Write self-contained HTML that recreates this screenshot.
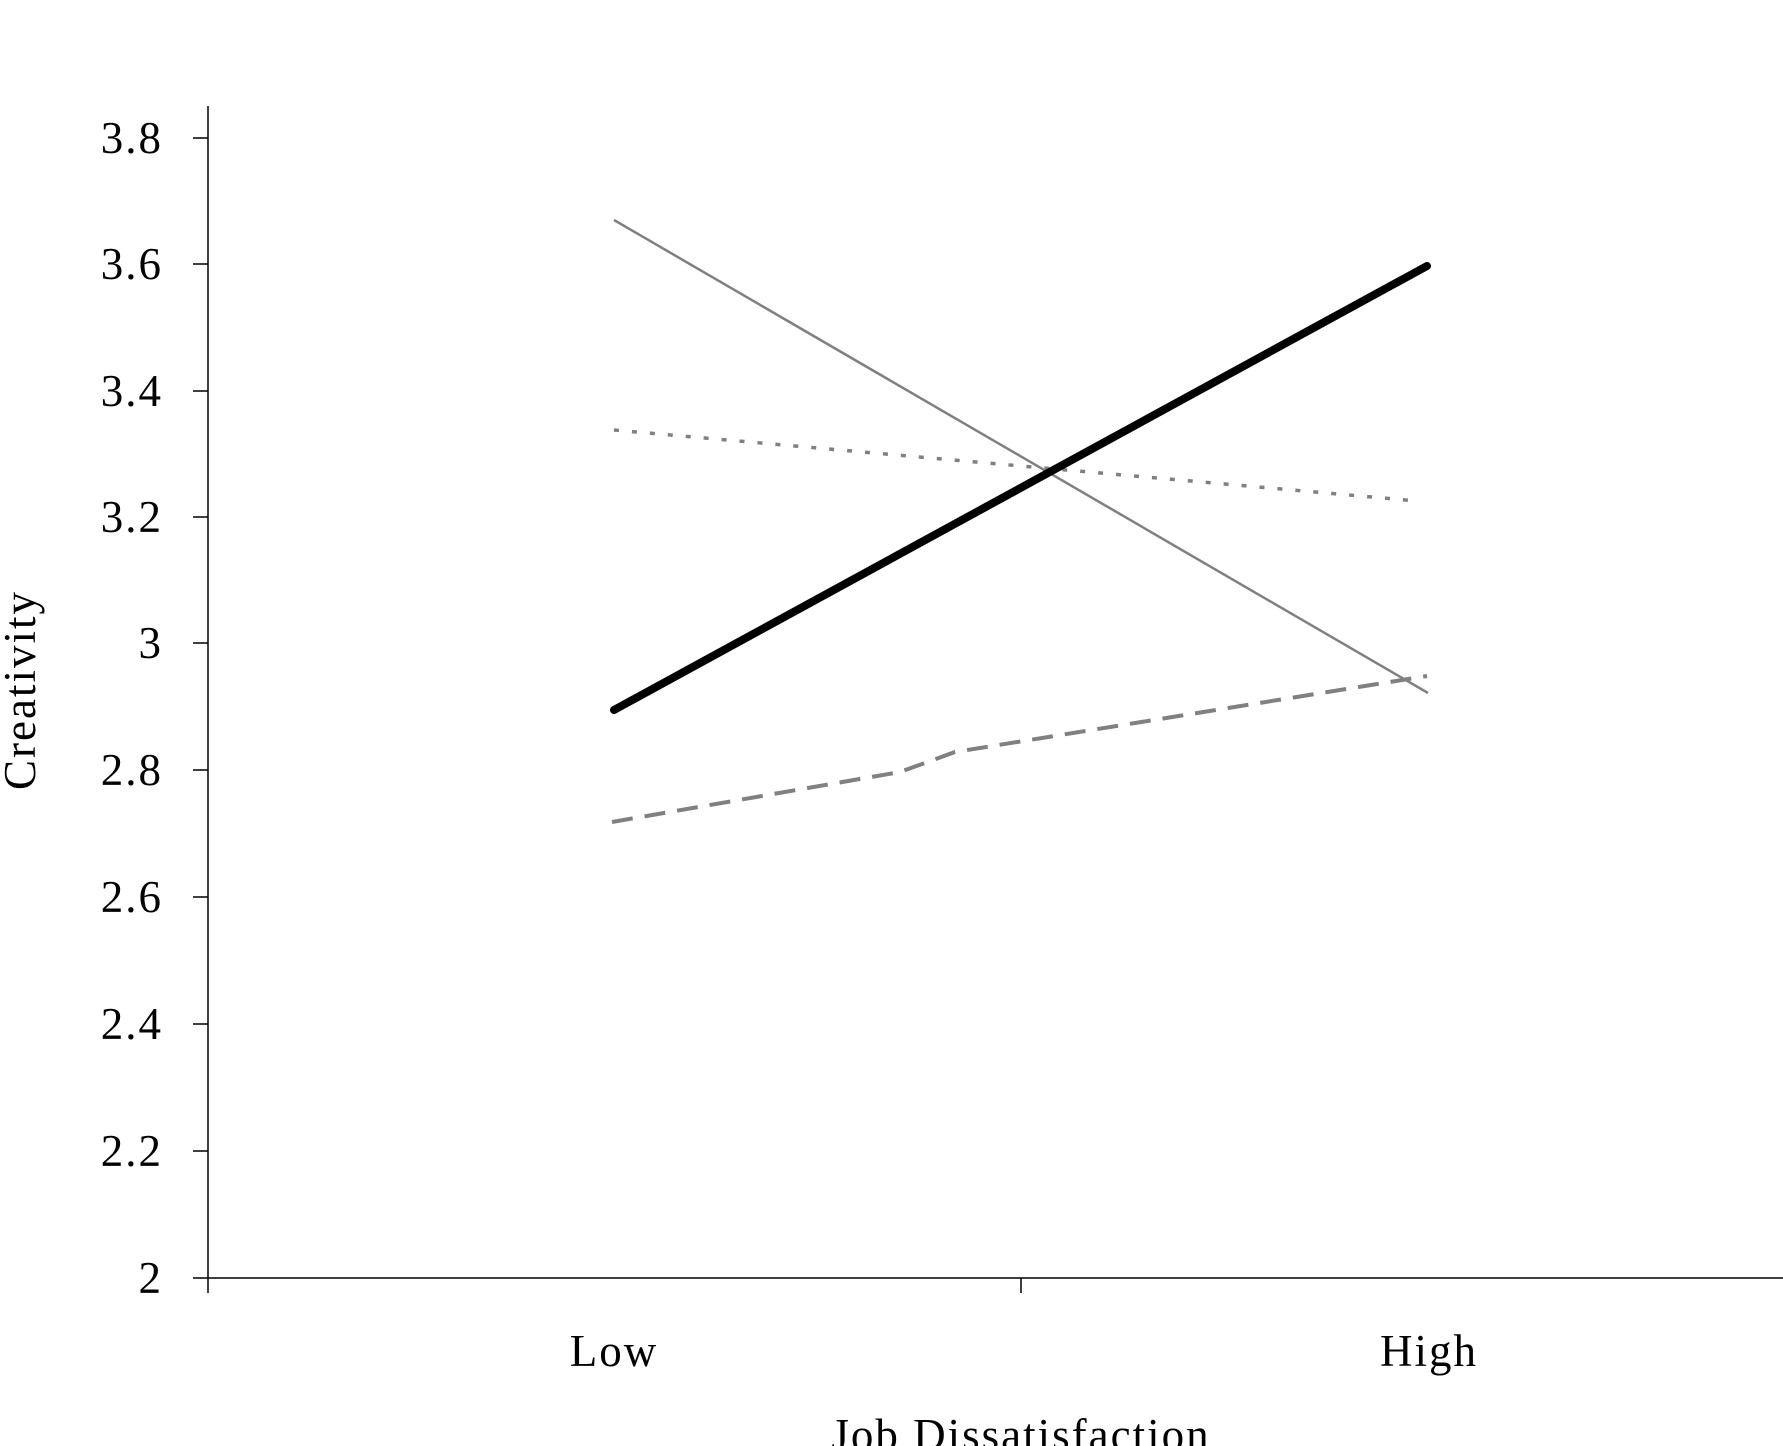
<!DOCTYPE html>
<html><head><style>
html,body{margin:0;padding:0;background:#fff;}
svg{display:block;}
text{font-family:"Liberation Serif",serif;fill:#000;}
</style></head><body>
<svg width="1783" height="1446" viewBox="0 0 1783 1446" xmlns="http://www.w3.org/2000/svg">
<g stroke="#000" stroke-width="1.5">
<line x1="208" y1="106" x2="208" y2="1293"/>
<line x1="193" y1="1278" x2="1783" y2="1278"/>
<line x1="1021" y1="1278" x2="1021" y2="1293"/>
<line x1="193" y1="138" x2="208" y2="138"/>
<line x1="193" y1="264" x2="208" y2="264"/>
<line x1="193" y1="391" x2="208" y2="391"/>
<line x1="193" y1="517" x2="208" y2="517"/>
<line x1="193" y1="643" x2="208" y2="643"/>
<line x1="193" y1="770" x2="208" y2="770"/>
<line x1="193" y1="897" x2="208" y2="897"/>
<line x1="193" y1="1024" x2="208" y2="1024"/>
<line x1="193" y1="1151" x2="208" y2="1151"/>
</g>
<g font-size="45" text-anchor="end" letter-spacing="2">
<text x="163" y="153">3.8</text>
<text x="163" y="279">3.6</text>
<text x="163" y="406">3.4</text>
<text x="163" y="532">3.2</text>
<text x="163" y="658">3</text>
<text x="163" y="785">2.8</text>
<text x="163" y="912">2.6</text>
<text x="163" y="1039">2.4</text>
<text x="163" y="1166">2.2</text>
<text x="163" y="1293">2</text>
</g>
<g font-size="45" text-anchor="middle" letter-spacing="2">
<text x="614" y="1366">Low</text>
<text x="1429" y="1366">High</text>
<text x="1021" y="1450">Job Dissatisfaction</text>
<text transform="translate(35,690) rotate(-90)">Creativity</text>
</g>
<line x1="614" y1="220" x2="1428" y2="693" stroke="#808080" stroke-width="2.5"/>
<line x1="614" y1="430" x2="1417" y2="501" stroke="#808080" stroke-width="3.5" stroke-dasharray="5 13"/>
<polyline points="612,822 900,772 955,752 1427,676" fill="none" stroke="#808080" stroke-width="4" stroke-dasharray="21 12"/>
<line x1="614" y1="710" x2="1427" y2="266" stroke="#000" stroke-width="8" stroke-linecap="round"/>
</svg>
</body></html>
